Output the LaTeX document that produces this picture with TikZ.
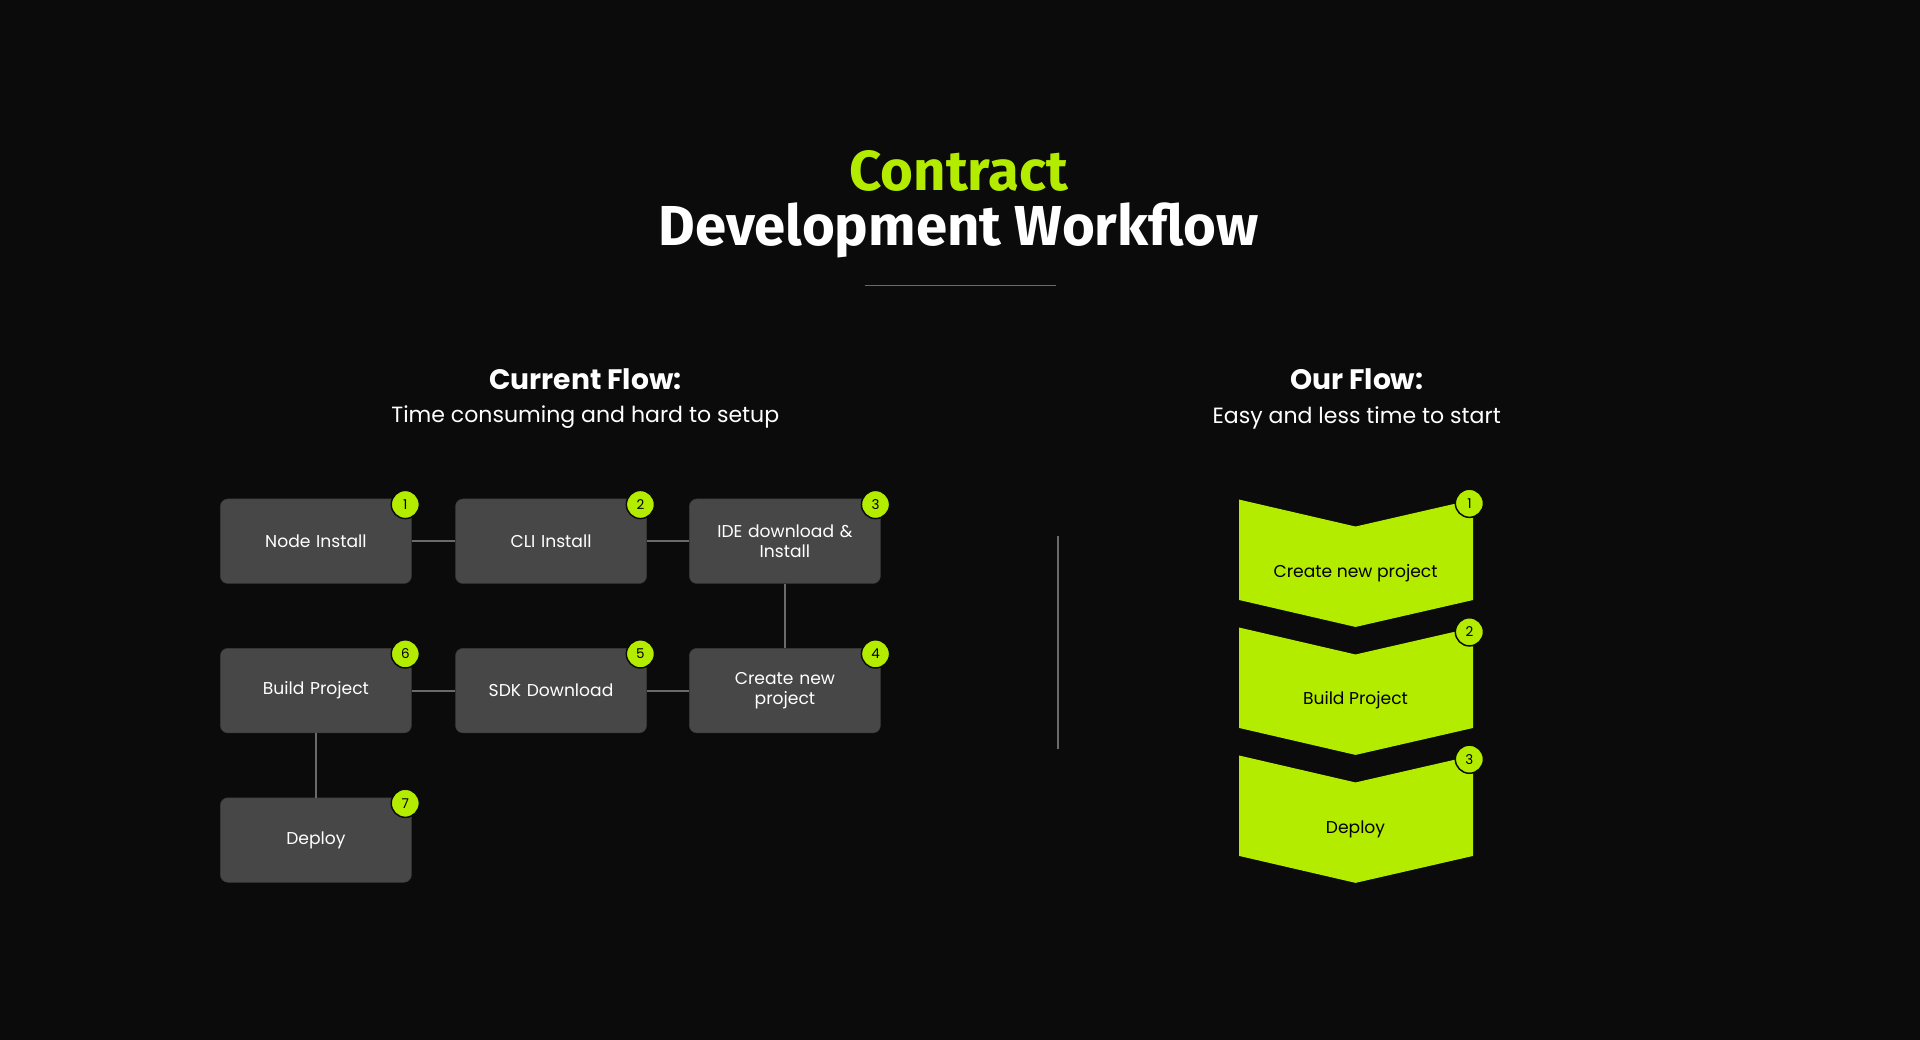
\documentclass[tikz,border=0pt]{standalone}
\usepackage{fontspec}
\setmainfont{Poppins}
\newfontfamily\titlefont{Fira Sans}
\definecolor{bg}{HTML}{0B0B0B}
\definecolor{lime}{HTML}{B4EC00}
\definecolor{boxc}{HTML}{474747}
\definecolor{linec}{HTML}{6A6A6A}
\begin{document}
\begin{tikzpicture}[x=1pt,y=-1pt,
  box/.style={fill=boxc,draw=boxc!80!black,rounded corners=6pt,minimum width=156pt,minimum height=69pt,text=white,font=\fontsize{14}{17}\selectfont,align=center,text width=140pt},
  badge/.style={circle,fill=lime,draw=bg,line width=1.2pt,minimum size=23pt,inner sep=0pt,font=\fontsize{11}{12}\selectfont,text=black},
  conn/.style={draw=linec,line width=1.6pt},
  chev/.style={fill=lime,draw=none},
  ctext/.style={font=\fontsize{14}{17}\selectfont,text=black}]
\fill[bg] (0,0) rectangle (1568,849);
\useasboundingbox (0,0) rectangle (1568,849);
\node (t1) at (783,140) {\titlefont\bfseries\fontsize{46}{50}\selectfont\color{lime}Contract};
\node (t2) at (783,188) {\titlefont\bfseries\fontsize{46}{50}\selectfont\color{white}Development Workflow};
\draw[linec,line width=1pt] (706,233) -- (862,233);
\node[text=white,font=\bfseries\fontsize{23}{26}\selectfont] (h1) at (478,310) {Current Flow:};
\node[text=white,font=\fontsize{18}{22}\selectfont] (s1) at (478,341) {Time consuming and hard to setup};
\node[text=white,font=\bfseries\fontsize{23}{26}\selectfont] (h2) at (1108,310) {Our Flow:};
\node[text=white,font=\fontsize{18}{22}\selectfont] (s2) at (1108,341) {Easy and less time to start};
% boxes
\node[box] (b1) at (258,442) {Node Install};
\node[box] (b2) at (450,442) {CLI Install};
\node[box] (b3) at (641,442) {IDE download \&\\Install};
\node[box] (b4) at (641,564) {Create new\\project};
\node[box] (b5) at (450,564) {SDK Download};
\node[box] (b6) at (258,564) {Build Project};
\node[box] (b7) at (258,686) {Deploy};
\begin{scope}[on background layer/.try]
\end{scope}
\draw[conn] (b1) -- (b2);
\draw[conn] (b2) -- (b3);
\draw[conn] (b3) -- (b4);
\draw[conn] (b4) -- (b5);
\draw[conn] (b5) -- (b6);
\draw[conn] (b6) -- (b7);
\node[badge] (n1) at (331,412) {1};
\node[badge] (n2) at (523,412) {2};
\node[badge] (n3) at (715,412) {3};
\node[badge] (n4) at (715,534) {4};
\node[badge] (n5) at (523,534) {5};
\node[badge] (n6) at (331,534) {6};
\node[badge] (n7) at (331,656) {7};
% divider
\draw[linec,line width=1pt] (864,438) -- (864,612);
% chevrons
\foreach \i/\dy in {1/0,2/104.5,3/209}{
  \fill[chev] (1012,408+\dy) -- (1107,430+\dy) -- (1203,408+\dy) -- (1203,490+\dy) -- (1107,512+\dy) -- (1012,490+\dy) -- cycle;
}
\node[ctext] (c1) at (1107,468) {Create new project};
\node[ctext] (c2) at (1107,572) {Build Project};
\node[ctext] (c3) at (1107,677) {Deploy};
\node[badge] (m1) at (1200,411) {1};
\node[badge] (m2) at (1200,516) {2};
\node[badge] (m3) at (1200,620) {3};
\end{tikzpicture}
\end{document}
